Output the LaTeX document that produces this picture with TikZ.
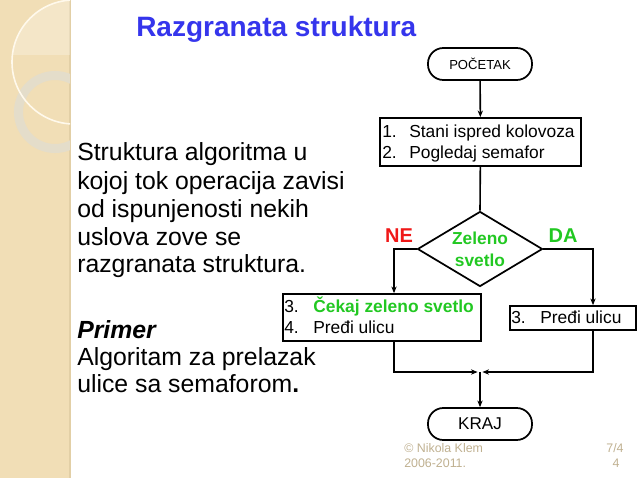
\documentclass[tikz,border=0pt]{standalone}
\usepackage{fontspec}
\setmainfont{Liberation Sans}
\usetikzlibrary{shapes.geometric,arrows.meta,fit,calc}
\definecolor{panel}{HTML}{F1DEB6}
\definecolor{panelline}{HTML}{E2CFA6}
\definecolor{ringc}{HTML}{E4DDCA}
\definecolor{circc}{HTML}{FFF9EC}
\definecolor{titleblue}{HTML}{3535EC}
\definecolor{okgreen}{HTML}{22C822}
\definecolor{nored}{HTML}{F01818}
\definecolor{footc}{HTML}{BFB090}
\tikzset{
  term/.style={draw, line width=1.3pt, rounded corners=11.5pt, inner sep=0},
  boxc/.style={draw, line width=1.3pt, inner sep=0},
  flow/.style={line width=1.2pt},
  arr/.style={flow, -{Stealth[length=5pt,width=4pt]}},
  body/.style={anchor=base west, inner sep=0, font=\fontsize{18.6}{21}\selectfont},
  bt/.style={anchor=base west, inner sep=0, font=\fontsize{13.05}{15}\selectfont},
  foot/.style={inner sep=0, text=footc, font=\fontsize{9.3}{11}\selectfont},
}
\begin{document}
\begin{tikzpicture}[x=0.75pt,y=-0.75pt]
\useasboundingbox (0,0) rectangle (638,478);
% left decorative panel
\fill[panel] (0,0) rectangle (70,478);
\draw[panelline, line width=1pt] (70,0) -- (70,478);
\begin{scope}
  \clip (0,0) rectangle (70,478);
  \begin{scope}
    \clip (74,62) circle (62);
    \fill[white, opacity=0.25] (0,0) rectangle (70,55);
  \end{scope}
  \draw[ringc, line width=6.75pt] (55,112) circle (36.5);
  \draw[circc, line width=1.2pt] (74,62) circle (62);
\end{scope}
% title
\node[anchor=base west, inner sep=0, text=titleblue, font=\bfseries\fontsize{21}{24}\selectfont] (title) at (136,37) {Razgranata struktura};
% body text
\node[body] (l1) at (77,160) {Struktura algoritma u};
\node[body] (l2) at (77,189) {kojoj tok operacija zavisi};
\node[body] (l3) at (77,217) {od ispunjenosti nekih};
\node[body] (l4) at (77,245) {uslova zove se};
\node[body] (l5) at (77,272) {razgranata struktura.};
\node[body] (l6) at (77,338) {\bfseries\itshape Primer};
\node[body] (l7) at (77,365) {Algoritam za prelazak};
\node[body] (l8) at (77,392) {ulice sa semaforom\textbf{.}};
% flowchart
\node[term, fit={(428,48) (532,80)}] (start) {};
\node[inner sep=0, font=\fontsize{9.8}{11}\selectfont] (startt) at (start.center) {POČETAK};
\node[boxc, fit={(380,118) (581,166)}] (b1) {};
\node[bt] (b1n1) at (382,137) {1.};
\node[bt] (b1t1) at (409,137) {Stani ispred kolovoza};
\node[bt] (b1n2) at (382,158) {2.};
\node[bt] (b1t2) at (409,158) {Pogledaj semafor};
\node[draw, diamond, line width=1.3pt, inner sep=0, minimum width=93.75pt, minimum height=56.25pt] (dia) at (480,249) {};
\node[align=center, inner sep=0, text=okgreen, font=\bfseries\fontsize{13}{16.5}\selectfont] (diat) at (dia.center) {Zeleno\\svetlo};
\node[inner sep=0, text=nored, font=\bfseries\fontsize{15}{17}\selectfont] (ne) at (399,236) {NE};
\node[inner sep=0, text=okgreen, font=\bfseries\fontsize{15}{17}\selectfont] (da) at (563,236) {DA};
\node[boxc, fit={(283,294) (481,341)}] (bl) {};
\node[bt] (bln1) at (284,312) {3.};
\node[bt, text=okgreen, font=\bfseries\fontsize{13.05}{15}\selectfont] (blt1) at (313,312) {Čekaj zeleno svetlo};
\node[bt] (bln2) at (284,333) {4.};
\node[bt] (blt2) at (313,333) {Pređi ulicu};
\node[boxc, fit={(510,306) (636,330)}] (br) {};
\node[bt] (brn1) at (511,323) {3.};
\node[bt] (brt1) at (540,323) {Pređi ulicu};
\node[term, fit={(428,408) (532,440)}] (end) {};
\node[inner sep=0, font=\fontsize{12.8}{14}\selectfont] (endt) at (end.center) {KRAJ};
\coordinate (m) at (480,372);
\draw[arr] (start) -- (b1);
\draw[flow] (b1) -- (dia.north);
\draw[arr] (dia.west) -| ([xshift=9pt]bl.north);
\draw[arr] (dia.east) -| ([xshift=15pt]br.north);
\draw[arr] ([xshift=9pt]bl.south) |- ([xshift=-1.8pt]m);
\draw[arr] ([xshift=15pt]br.south) |- ([xshift=1.8pt]m);
\draw[arr] (m) -- (end);
% footer
\node[foot, anchor=base west] (f1) at (404,452) {© Nikola Klem};
\node[foot, anchor=base west] (f2) at (404,467) {2006-2011.};
\node[foot, anchor=base] (p1) at (615,452) {7/4};
\node[foot, anchor=base] (p2) at (616,467) {4};
\end{tikzpicture}
\end{document}
